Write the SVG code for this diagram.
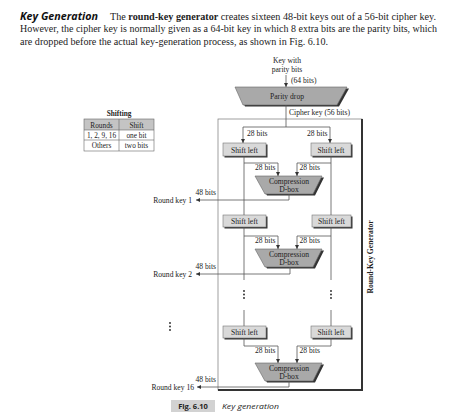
<svg xmlns="http://www.w3.org/2000/svg" width="474" height="418" viewBox="0 0 474 418">
<defs>
<marker id="ah" viewBox="0 0 6 6" refX="6" refY="3" markerWidth="4" markerHeight="4" markerUnits="userSpaceOnUse" orient="auto"><path d="M0,0 L6,3 L0,6 z" fill="#333"/></marker>
<style>
.t{font-family:"Liberation Serif",serif;font-size:7.6px;fill:#222}
.tb{font-family:"Liberation Serif",serif;font-size:7.3px;fill:#222}
.h{font-family:"Liberation Serif",serif;font-size:10px;fill:#222}
.ln{stroke:#555;stroke-width:0.8;fill:none}
.ar{stroke:#555;stroke-width:0.8;fill:none;marker-end:url(#ah)}
.sh{fill:#333}
.sl{fill:#d9d9d9;stroke:#777;stroke-width:0.6}
.tz{fill:#a9a9a9;stroke:#666;stroke-width:0.6}
.dot{fill:#222}
</style>
</defs>
<rect width="474" height="418" fill="#fff"/>
<g id="header">
<text x="20" y="20" font-family="'Open Sans',sans-serif" font-size="11" font-weight="bold" font-style="italic" fill="#111" textLength="78" lengthAdjust="spacingAndGlyphs">Key Generation</text>
<text class="h" x="110" y="20" textLength="326" lengthAdjust="spacingAndGlyphs">The <tspan font-weight="bold">round-key generator</tspan> creates sixteen 48-bit keys out of a 56-bit cipher key.</text>
<text class="h" x="20" y="32" textLength="417" lengthAdjust="spacingAndGlyphs">However, the cipher key is normally given as a 64-bit key in which 8 extra bits are the parity bits, which</text>
<text class="h" x="20" y="45" textLength="308" lengthAdjust="spacingAndGlyphs">are dropped before the actual key-generation process, as shown in Fig. 6.10.</text>
</g>
<g id="table">
<text class="tb" x="119" y="116" text-anchor="middle" font-weight="bold">Shifting</text>
<rect x="84" y="119" width="70" height="11" fill="#c4c4c4"/>
<rect x="84" y="119" width="70" height="32" fill="none" stroke="#666" stroke-width="0.6"/>
<path d="M84,130 H154 M84,140 H154 M119,119 V151" stroke="#666" stroke-width="0.6"/>
<text class="tb" x="101.5" y="127.5" text-anchor="middle">Rounds</text>
<text class="tb" x="136.5" y="127.5" text-anchor="middle">Shift</text>
<text class="tb" x="101.5" y="137.5" text-anchor="middle">1, 2, 9, 16</text>
<text class="tb" x="136.5" y="137.5" text-anchor="middle">one bit</text>
<text class="tb" x="101.5" y="148" text-anchor="middle">Others</text>
<text class="tb" x="136.5" y="148" text-anchor="middle">two bits</text>
</g>
<g id="generator-box">
<rect x="218" y="119" width="144" height="271" fill="none" stroke="#777" stroke-width="0.7"/>
<path d="M362,119 V390 H218" fill="none" stroke="#333" stroke-width="2"/>
<text class="t" transform="translate(373,257) rotate(-90)" text-anchor="middle" font-weight="bold">Round-Key Generator</text>
</g>
<g id="input">
<text class="t" x="287" y="63" text-anchor="middle">Key with</text>
<text class="t" x="287" y="72" text-anchor="middle">parity bits</text>
<text class="t" x="291" y="83">(64 bits)</text>
</g>
<g id="parity-drop">
<polygon class="sh" points="237,88.5 349,88.5 339,106.5 245,106.5"/>
<polygon class="tz" points="235,87 347,87 337,105 243,105"/>
<text class="t" x="287" y="99" text-anchor="middle">Parity drop</text>
</g>
<g id="shift-left-1a"><rect class="sh" x="224.5" y="144.5" width="43" height="13"/><rect class="sl" x="223" y="143" width="43" height="13"/><text class="t" x="244.5" y="152.5" text-anchor="middle">Shift left</text></g>
<g id="shift-left-1b"><rect class="sh" x="312.5" y="144.5" width="40" height="13"/><rect class="sl" x="311" y="143" width="40" height="13"/><text class="t" x="331" y="152.5" text-anchor="middle">Shift left</text></g>
<g id="shift-left-2a"><rect class="sh" x="224.5" y="216.5" width="43" height="12"/><rect class="sl" x="223" y="215" width="43" height="12"/><text class="t" x="244.5" y="223.8" text-anchor="middle">Shift left</text></g>
<g id="shift-left-2b"><rect class="sh" x="313.5" y="216.5" width="39" height="12"/><rect class="sl" x="312" y="215" width="39" height="12"/><text class="t" x="331.5" y="223.8" text-anchor="middle">Shift left</text></g>
<g id="shift-left-16a"><rect class="sh" x="224.5" y="327.5" width="43" height="12"/><rect class="sl" x="223" y="326" width="43" height="12"/><text class="t" x="244.5" y="334.8" text-anchor="middle">Shift left</text></g>
<g id="shift-left-16b"><rect class="sh" x="312.5" y="327.5" width="40" height="12"/><rect class="sl" x="311" y="326" width="40" height="12"/><text class="t" x="331" y="334.8" text-anchor="middle">Shift left</text></g>
<g id="compression-1"><polygon class="sh" points="257,177.5 324,177.5 315,195.5 267,195.5"/><polygon class="tz" points="255,176 322,176 313,194 265,194"/><text class="t" x="289" y="183.5" text-anchor="middle">Compression</text><text class="t" x="289" y="191.5" text-anchor="middle">D-box</text></g>
<g id="compression-2"><polygon class="sh" points="257,250.5 324,250.5 315,268.5 267,268.5"/><polygon class="tz" points="255,249 322,249 313,267 265,267"/><text class="t" x="289" y="256.5" text-anchor="middle">Compression</text><text class="t" x="289" y="264.5" text-anchor="middle">D-box</text></g>
<g id="compression-16"><polygon class="sh" points="257,364.5 324,364.5 315,382.5 267,382.5"/><polygon class="tz" points="255,363 322,363 313,381 265,381"/><text class="t" x="289" y="370.5" text-anchor="middle">Compression</text><text class="t" x="289" y="378.5" text-anchor="middle">D-box</text></g>
<g id="connectors">
<path class="ar" d="M286,75 V87"/>
<path class="ln" d="M286,105 V127 M243,127 H330"/>
<path class="ar" d="M243,127 V143"/>
<path class="ar" d="M330,127 V143"/>
<path class="ln" d="M244,156 V215 M331,156 V215 M244,227 V280 M331,227 V280 M244,310 V326 M331,310 V326"/>
<path class="ar" d="M244,163 H278 V176"/>
<path class="ar" d="M331,163 H297 V176"/>
<path class="ar" d="M244,236 H278 V249"/>
<path class="ar" d="M331,236 H297 V249"/>
<path class="ar" d="M244,338 V346 H278 V363"/>
<path class="ar" d="M331,338 V346 H297 V363"/>
<path class="ar" d="M289,194 V200 H196"/>
<path class="ar" d="M290,267 V274 H196"/>
<path class="ar" d="M289,381 V387 H197"/>
</g>
<g id="labels">
<text class="t" x="289" y="114.5">Cipher key (56 bits)</text>
<text class="t" x="247" y="136">28 bits</text>
<text class="t" x="327.5" y="136" text-anchor="end">28 bits</text>
<text class="t" x="275.5" y="170" text-anchor="end">28 bits</text>
<text class="t" x="299.5" y="170">28 bits</text>
<text class="t" x="275.5" y="243" text-anchor="end">28 bits</text>
<text class="t" x="299.5" y="243">28 bits</text>
<text class="t" x="275.5" y="353" text-anchor="end">28 bits</text>
<text class="t" x="299.5" y="353">28 bits</text>
<text class="t" x="195.5" y="195">48 bits</text>
<text class="t" x="192" y="202.5" text-anchor="end">Round key 1</text>
<text class="t" x="195.5" y="269">48 bits</text>
<text class="t" x="192" y="276.5" text-anchor="end">Round key 2</text>
<text class="t" x="195.5" y="382">48 bits</text>
<text class="t" x="194" y="389.5" text-anchor="end">Round key 16</text>
</g>
<g id="ellipses">
<circle class="dot" cx="244" cy="291" r="0.9"/><circle class="dot" cx="244" cy="294.5" r="0.9"/><circle class="dot" cx="244" cy="298" r="0.9"/>
<circle class="dot" cx="331" cy="291" r="0.9"/><circle class="dot" cx="331" cy="294.5" r="0.9"/><circle class="dot" cx="331" cy="298" r="0.9"/>
<circle class="dot" cx="170" cy="323" r="0.9"/><circle class="dot" cx="170" cy="326.5" r="0.9"/><circle class="dot" cx="170" cy="330" r="0.9"/>
</g>
<g id="caption">
<rect x="171" y="400" width="44" height="12" fill="#d2d2d2"/>
<text x="193" y="409" text-anchor="middle" font-family="'Open Sans',sans-serif" font-size="7.5" font-weight="bold" fill="#222">Fig. 6.10</text>
<text x="222" y="409" font-family="'Open Sans',sans-serif" font-size="8" font-style="italic" fill="#222" textLength="57" lengthAdjust="spacingAndGlyphs">Key generation</text>
</g>
</svg>
